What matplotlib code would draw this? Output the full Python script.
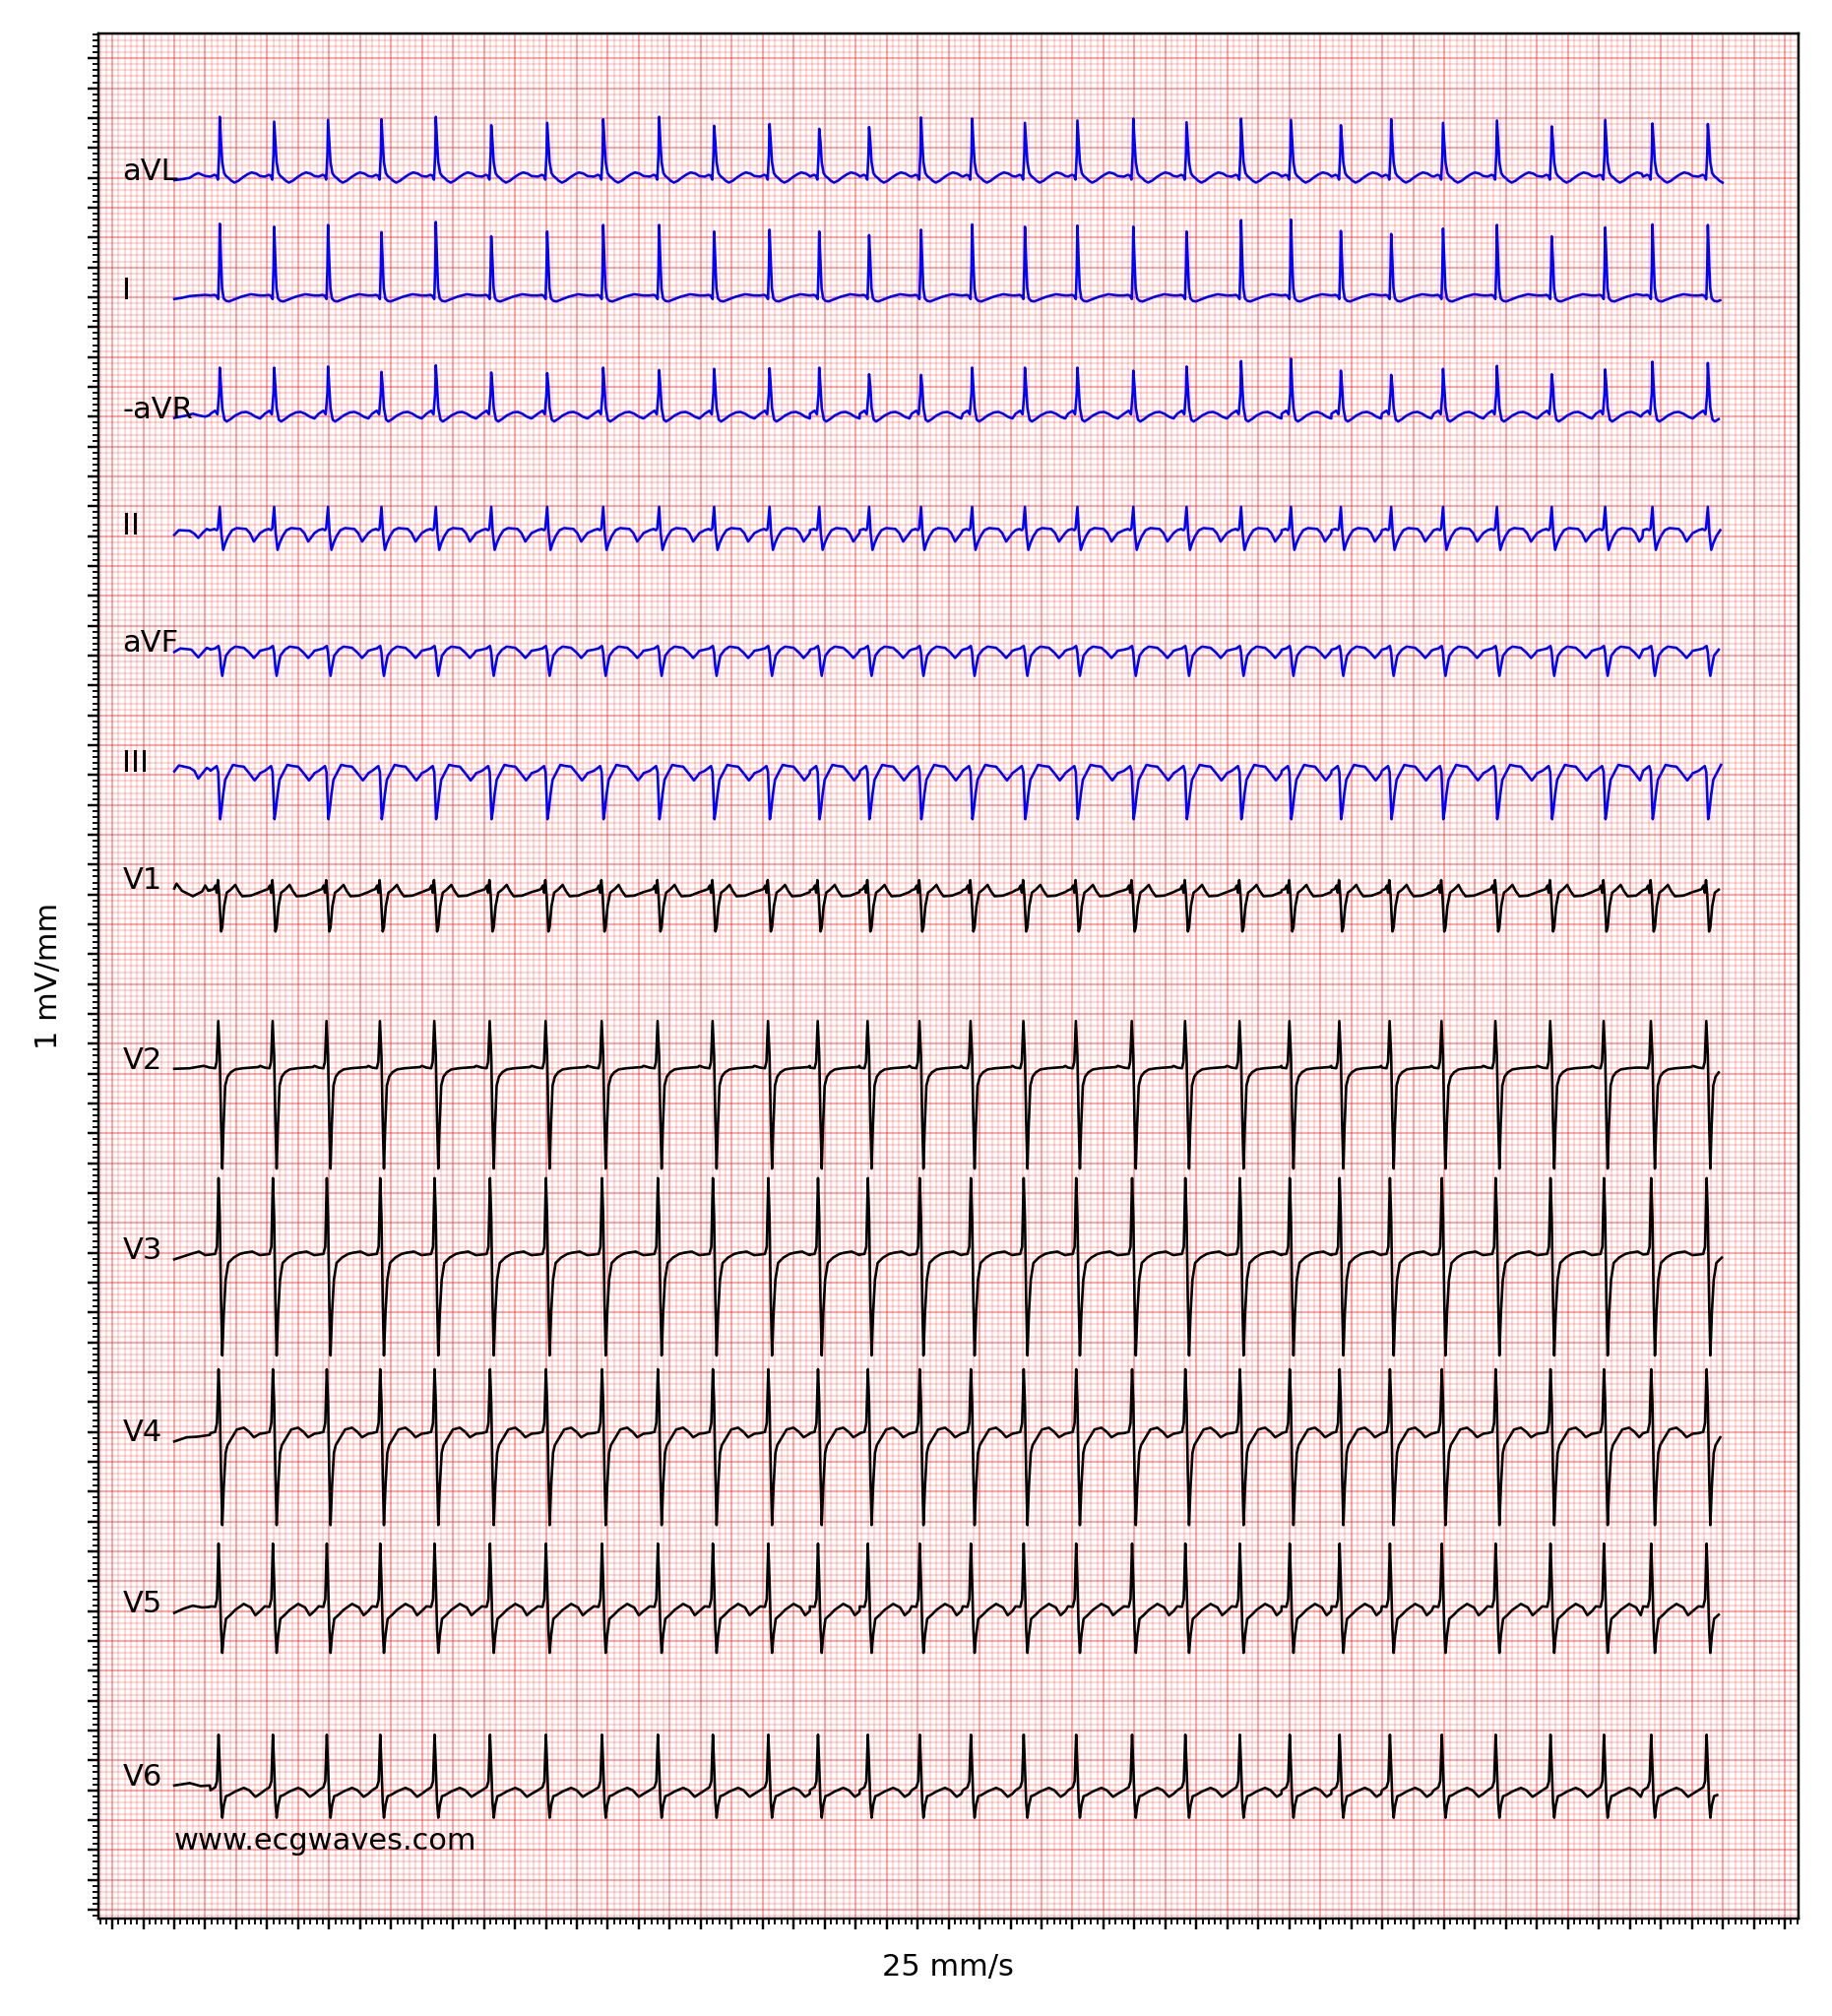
import matplotlib
matplotlib.use("Agg")
import matplotlib.pyplot as plt
from matplotlib.ticker import MultipleLocator

# R-peak times (s), shared by all leads
r_times = [0.294, 0.645, 0.993, 1.338, 1.689, 2.047, 2.408, 2.770, 3.131, 3.486,
           3.844, 4.165, 4.487, 4.822, 5.152, 5.493, 5.832, 6.193, 6.537, 6.889,
           7.211, 7.533, 7.858, 8.193, 8.541, 8.895, 9.240, 9.545, 9.903]

# per-beat R heights (mV) read for the top three leads
avl_r = [1.02, 0.94, 0.97, 0.98, 1.02, 0.88, 0.92, 0.98, 1.02, 0.87, 0.90, 0.82, 0.85, 1.01,
         0.99, 0.92, 0.96, 0.99, 0.93, 0.99, 0.97, 0.88, 0.98, 0.92, 0.96, 0.86, 0.97, 0.91, 0.90]
i_r = [1.23, 1.18, 1.21, 1.09, 1.26, 1.02, 1.10, 1.21, 1.21, 1.10, 1.13, 1.10, 1.04, 1.13,
       1.22, 1.18, 1.20, 1.18, 1.10, 1.29, 1.30, 1.11, 1.06, 1.15, 1.21, 1.02, 1.17, 1.22, 1.21]
avr_r = [0.82, 0.82, 0.84, 0.75, 0.86, 0.74, 0.73, 0.82, 0.78, 0.80, 0.81, 0.82, 0.71, 0.70,
         0.82, 0.82, 0.82, 0.77, 0.84, 0.93, 0.97, 0.77, 0.70, 0.80, 0.85, 0.71, 0.79, 0.92, 0.90]

lead_names = ["aVL", "I", "-aVR", "II", "aVF", "III", "V1", "V2", "V3", "V4", "V5", "V6"]
lead_offsets = [29, 27, 25, 23, 21, 19, 17, 14, 11, 8, 5, 2]
lead_colors = ["b"] * 6 + ["k"] * 6

# trace before the first beat: (t, mV)
lead_in = {
    "aVL": [(0, -0.04), (0.06, -0.02), (0.10, 0.0), (0.13, 0.05), (0.155, 0.08), (0.18, 0.05), (0.20, 0.03), (0.23, 0.02)],
    "I": [(0, -0.03), (0.05, -0.01), (0.10, 0.02), (0.15, 0.03), (0.20, 0.04), (0.23, 0.03)],
    "-aVR": [(0, -0.02), (0.08, 0.02), (0.12, 0.05), (0.16, 0.02), (0.20, 0.0), (0.23, 0.03)],
    "II": [(0, 0.02), (0.03, 0.10), (0.10, 0.09), (0.13, 0.04), (0.155, -0.03), (0.185, 0.06), (0.21, 0.12), (0.23, 0.10)],
    "aVF": [(0, 0.06), (0.04, 0.12), (0.11, 0.10), (0.155, -0.03), (0.21, 0.13), (0.23, 0.11)],
    "III": [(0, 0.06), (0.03, 0.16), (0.10, 0.12), (0.13, 0.07), (0.155, -0.06), (0.21, 0.12), (0.23, 0.09)],
    "V1": [(0, 0.10), (0.015, 0.18), (0.05, 0.06), (0.12, -0.03), (0.18, 0.05), (0.20, 0.15), (0.22, 0.06), (0.232, 0.08)],
    "V2": [(0, 0.08), (0.10, 0.09), (0.19, 0.13), (0.23, 0.10)],
    "V3": [(0, -0.11), (0.06, -0.06), (0.12, -0.01), (0.16, 0.02), (0.20, -0.04), (0.23, -0.03)],
    "V4": [(0, -0.16), (0.08, -0.09), (0.15, -0.08), (0.23, -0.05)],
    "V5": [(0, -0.03), (0.06, 0.04), (0.12, 0.09), (0.18, 0.06), (0.23, 0.07)],
    "V6": [(0, 0.08), (0.10, 0.12), (0.17, 0.07), (0.23, 0.08)],
}

# one beat per lead: (time from R peak in s, mV); None = per-beat R height
beat_shape = {
    "aVL": [(-0.06, 0.02), (-0.035, 0.05), (-0.02, 0.03), (-0.012, -0.03), (-0.004, 0.4), (0.0, None),
            (0.008, 0.6), (0.016, 0.26), (0.028, 0.08), (0.04, 0.03), (0.055, 0.0), (0.075, -0.05),
            (0.095, -0.08), (0.12, -0.05), (0.15, 0.01), (0.18, 0.06), (0.205, 0.09), (0.235, 0.07), (0.26, 0.03)],
    "I": [(-0.06, 0.03), (-0.035, 0.04), (-0.02, 0.02), (-0.01, -0.03), (-0.004, 0.5), (0.0, None),
          (0.008, 0.6), (0.015, 0.15), (0.025, -0.02), (0.04, -0.06), (0.06, -0.07), (0.08, -0.05),
          (0.11, -0.02), (0.14, 0.01), (0.17, 0.03), (0.20, 0.05), (0.23, 0.04), (0.26, 0.03)],
    "-aVR": [(-0.06, 0.05), (-0.03, 0.10), (-0.015, 0.04), (-0.004, 0.4), (0.0, None), (0.008, 0.5),
             (0.016, 0.15), (0.03, -0.05), (0.045, -0.08), (0.07, -0.04), (0.10, 0.02), (0.14, 0.07),
             (0.17, 0.08), (0.20, 0.05), (0.23, 0.0), (0.26, -0.03)],
    "II": [(-0.06, 0.10), (-0.035, 0.12), (-0.02, 0.10), (-0.012, 0.13), (0.0, 0.49), (0.01, 0.05),
           (0.022, -0.23), (0.035, -0.12), (0.055, 0.0), (0.08, 0.10), (0.11, 0.135), (0.17, 0.12),
           (0.195, 0.05), (0.22, -0.09), (0.24, -0.02), (0.26, 0.05)],
    "aVF": [(-0.06, 0.10), (-0.03, 0.12), (-0.015, 0.15), (-0.008, 0.16), (0.0, 0.05), (0.008, -0.2),
            (0.016, -0.34), (0.025, -0.2), (0.04, 0.0), (0.07, 0.10), (0.10, 0.15), (0.155, 0.13),
            (0.19, 0.05), (0.22, -0.04), (0.245, 0.03), (0.26, 0.08)],
    "III": [(-0.06, 0.07), (-0.035, 0.12), (-0.02, 0.15), (-0.01, 0.05), (0.002, -0.74), (0.01, -0.6),
            (0.022, -0.32), (0.035, -0.08), (0.055, 0.02), (0.085, 0.17), (0.12, 0.15), (0.155, 0.14),
            (0.19, 0.03), (0.225, -0.09), (0.25, -0.01), (0.26, 0.03)],
    "V1": [(-0.06, 0.07), (-0.04, 0.09), (-0.028, 0.15), (-0.02, 0.03), (-0.012, 0.24), (-0.004, 0.0),
           (0.008, -0.62), (0.016, -0.55), (0.028, -0.2), (0.045, 0.03), (0.07, 0.08), (0.10, 0.16),
           (0.12, 0.06), (0.145, -0.03), (0.20, -0.02), (0.26, 0.04)],
    "V2": [(-0.06, 0.10), (-0.03, 0.09), (-0.02, 0.2), (-0.01, 0.88), (0.0, 0.3), (0.008, -0.8),
           (0.016, -1.59), (0.024, -0.9), (0.035, -0.2), (0.05, -0.05), (0.07, 0.02), (0.10, 0.07),
           (0.15, 0.09), (0.20, 0.10), (0.25, 0.11), (0.26, 0.13)],
    "V3": [(-0.06, -0.03), (-0.03, -0.02), (-0.018, 0.1), (-0.008, 1.25), (0.0, 0.6), (0.008, -0.8),
           (0.016, -1.72), (0.026, -1.0), (0.038, -0.45), (0.055, -0.17), (0.09, -0.08), (0.13, -0.02),
           (0.16, 0.0), (0.21, 0.02), (0.25, -0.03), (0.26, -0.04)],
    "V4": [(-0.06, -0.02), (-0.03, 0.0), (-0.018, 0.15), (-0.008, 1.05), (0.0, 0.5), (0.008, -0.7),
           (0.016, -1.56), (0.026, -0.9), (0.038, -0.35), (0.05, -0.22), (0.08, -0.09), (0.11, 0.04),
           (0.155, 0.07), (0.19, 0.0), (0.22, -0.09), (0.26, -0.03)],
    "V5": [(-0.06, 0.08), (-0.03, 0.07), (-0.018, 0.2), (-0.008, 1.13), (0.0, 0.5), (0.008, -0.3),
           (0.016, -0.7), (0.026, -0.4), (0.04, -0.13), (0.07, -0.06), (0.10, 0.02), (0.155, 0.12),
           (0.20, 0.06), (0.23, -0.07), (0.26, 0.0)],
    "V6": [(-0.06, 0.0), (-0.03, 0.05), (-0.018, 0.15), (-0.008, 0.93), (0.0, 0.4), (0.008, -0.2),
           (0.016, -0.46), (0.026, -0.25), (0.04, -0.1), (0.06, -0.08), (0.10, -0.02), (0.155, 0.04),
           (0.19, 0.0), (0.23, -0.11), (0.26, -0.06)],
}
r_heights = {"aVL": avl_r, "I": i_r, "-aVR": avr_r}

DURATION = 10.0


def build_trace(name):
    t = [p[0] for p in lead_in[name]]
    v = [p[1] for p in lead_in[name]]
    shape = beat_shape[name]
    for i, r in enumerate(r_times):
        nxt = r_times[i + 1] + shape[0][0] if i + 1 < len(r_times) else DURATION
        for dt, val in shape:
            tt = r + dt
            if tt <= t[-1] or tt >= nxt or tt > DURATION:
                continue
            if val is None:
                val = r_heights[name][i]
            t.append(tt)
            v.append(val)
    return t, v


fig = plt.figure(figsize=(1861 / 220, 2048 / 220), dpi=220)
ax = fig.add_axes([0.05347, 0.0485, 0.9283, 0.9349])

for name, off, col in zip(lead_names, lead_offsets, lead_colors):
    t, v = build_trace(name)
    ax.plot(t, [x + off for x in v], color=col, linewidth=0.85)
    ax.text(-0.335, v[0] + off, name, fontsize=10, va="baseline", ha="left")

ax.text(0.0, 1.0, "www.ecgwaves.com", fontsize=10, va="baseline", ha="left")

ax.set_xlim(-0.4927, 10.489)
ax.set_ylim(-0.143, 31.417)
ax.xaxis.set_major_locator(MultipleLocator(0.2))
ax.xaxis.set_minor_locator(MultipleLocator(0.04))
ax.yaxis.set_major_locator(MultipleLocator(0.5))
ax.yaxis.set_minor_locator(MultipleLocator(0.1))
ax.tick_params(which="both", labelbottom=False, labelleft=False)
ax.grid(which="major", color="red", linewidth=0.5, alpha=0.45)
ax.grid(which="minor", color="red", linewidth=0.5, alpha=0.2)
ax.set_axisbelow(True)

ax.set_xlabel("25 mm/s", labelpad=8)
ax.set_ylabel("1 mV/mm", labelpad=8)

fig.savefig("out.png", dpi=220)
